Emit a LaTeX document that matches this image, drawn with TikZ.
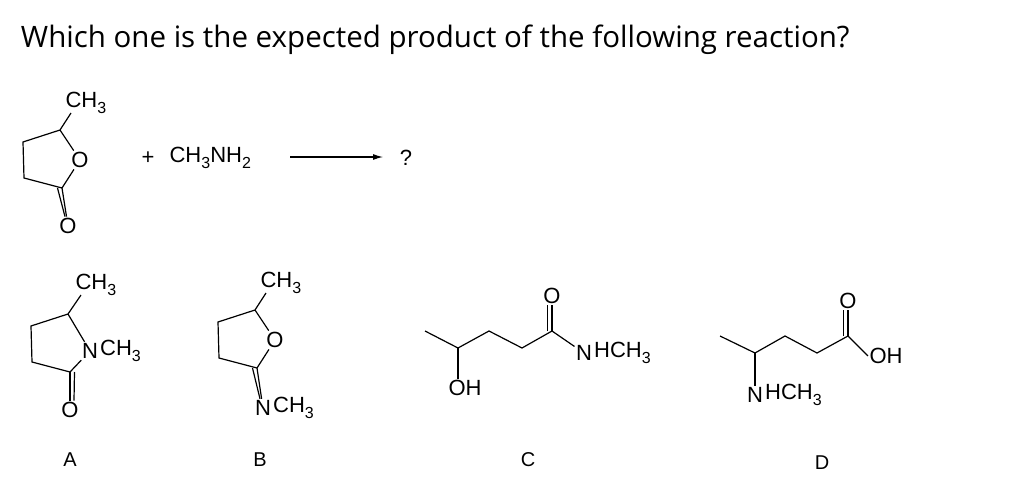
\documentclass[tikz,border=0pt]{standalone}
\usepackage{fontspec}
\setmainfont{Liberation Sans}
\newfontfamily\titlefont{Open Sans}
\usetikzlibrary{arrows.meta}
\newcommand\sbs[1]{\raisebox{-0.28em}{\fontsize{16}{16}\selectfont #1}}
\begin{document}
\begin{tikzpicture}[x=1pt,y=-1pt,line width=1.2pt,
  atm/.style={inner sep=1pt,font=\fontsize{22}{22}\selectfont},
  lbl/.style={font=\fontsize{20}{20}\selectfont}]
\useasboundingbox (0,0) rectangle (1024,484);
\node[anchor=west,font=\titlefont\fontsize{29.5}{31}\selectfont] (title) at (17,40) {Which one is the expected product of the following reaction?};
% starting material
\coordinate (s5) at (60,130); \coordinate (s4) at (23,142); \coordinate (s3) at (24,178); \coordinate (s2) at (62,188);
\node[atm] (so) at (80,160) {O};
\node[atm] (sO) at (68,226) {O};
\node[atm,anchor=south west] (sme) at (64,115) {CH\sbs{3}};
\draw (sme.south west) ++(7,-2) -- (s5) -- (s4) -- (s3) -- (s2) -- (so) -- (s5);
\draw (s2) -- (sO); \draw ([xshift=-4.5]s2) -- ([xshift=-3]sO.north);
\node[atm] (plus) at (148,158) {+};
\node[atm,anchor=west] (mn) at (168,158) {CH\sbs{3}NH\sbs{2}};
\node[atm] (q) at (406,158) {?};
\draw[-{Latex[length=10pt,width=6pt]},line width=1.1pt] (290,157) coordinate(a1) -- (383,157) coordinate(a2);
% A
\begin{scope}[shift={(8,184)}]
\coordinate (a5) at (60,130); \coordinate (a4) at (23,142); \coordinate (a3) at (24,178); \coordinate (a2c) at (62,188);
\node[atm] (an) at (82,167) {N};
\node[atm,anchor=west,inner sep=0pt] (anme) at (an.east) {CH\sbs{3}};
\node[atm] (aO) at (62,226) {O};
\node[atm,anchor=south west] (ame) at (66,113) {CH\sbs{3}};
\draw (ame.south west) ++(7,-2) -- (a5) -- (a4) -- (a3) -- (a2c) -- (an) -- (a5);
\draw (a2c) -- (aO); \draw ([xshift=4.5]a2c) -- ([xshift=4]aO.north);
\end{scope}
\node[lbl] (la) at (70,460) {A};
% B
\begin{scope}[shift={(195,180)}]
\coordinate (b5) at (60,130); \coordinate (b4) at (23,142); \coordinate (b3) at (24,178); \coordinate (b2) at (62,188);
\node[atm] (bo) at (80,160) {O};
\node[atm] (bn) at (68,228) {N};
\node[atm,anchor=west,inner sep=0pt] (bnme) at (bn.east) {CH\sbs{3}};
\node[atm,anchor=south west] (bme) at (64,115) {CH\sbs{3}};
\draw (bme.south west) ++(7,-2) -- (b5) -- (b4) -- (b3) -- (b2) -- (bo) -- (b5);
\draw (b2) -- (bn); \draw ([xshift=-4.5]b2) -- ([xshift=-3]bn.north);
\end{scope}
\node[lbl] (lb) at (260,460) {B};
% C
\coordinate (c1) at (425,331); \coordinate (c2) at (458,348); \coordinate (c3) at (489,331);
\coordinate (c4) at (522,348); \coordinate (c5) at (552,331);
\node[atm] (cO) at (552,296) {O};
\node[atm] (cn) at (584,353) {N};
\node[atm,anchor=west,inner sep=0pt] (cnr) at (cn.east) {HCH\sbs{3}};
\node[atm] (coh) at (465,388) {OH};
\draw (c1) -- (c2) -- (c3) -- (c4) -- (c5) -- (cn);
\draw (c2) -- (c2 |- coh.north);
\draw (c5) -- (cO); \draw ([xshift=-4.5]c5) -- ([xshift=-4.5]cO.south);
\node[lbl] (lc) at (528,460) {C};
% D
\coordinate (d1) at (720,336); \coordinate (d2) at (755,353); \coordinate (d3) at (785,336);
\coordinate (d4) at (817,353); \coordinate (d5) at (848,336);
\node[atm] (dO) at (848,301) {O};
\node[atm] (doh) at (886,356) {OH};
\node[atm] (dn) at (755,395) {N};
\node[atm,anchor=west,inner sep=0pt] (dnr) at (dn.east) {HCH\sbs{3}};
\draw (d1) -- (d2) -- (d3) -- (d4) -- (d5) -- (doh.west);
\draw (d2) -- (dn);
\draw (d5) -- (dO); \draw ([xshift=-4.5]d5) -- ([xshift=-4.5]dO.south);
\node[lbl] (ld) at (822,463) {D};
\end{tikzpicture}
\end{document}
